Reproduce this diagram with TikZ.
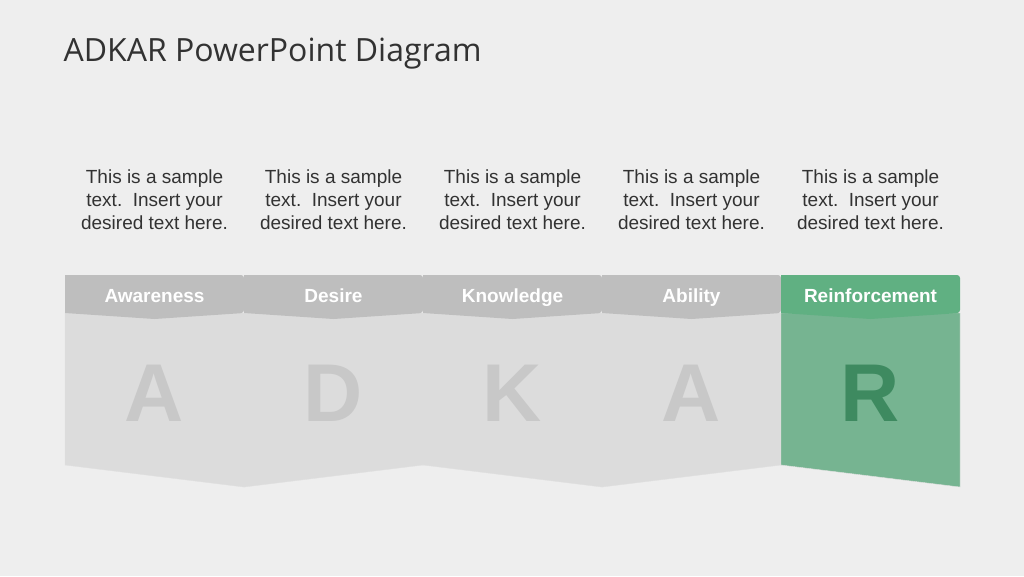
\documentclass[tikz,border=0pt]{standalone}
\usepackage{fontspec}
\setmainfont{Liberation Sans}
\newfontfamily\titlefont{Open Sans}
\usetikzlibrary{positioning,calc}
\definecolor{bgColor}{RGB}{238,238,238}
\definecolor{tabColor}{RGB}{190,190,190}
\definecolor{panelColor}{RGB}{220,220,220}
\definecolor{letterColor}{RGB}{200,200,200}
\definecolor{greenTab}{RGB}{96,176,130}
\definecolor{greenPanel}{RGB}{118,180,145}
\definecolor{greenLetter}{RGB}{62,138,96}
\definecolor{textColor}{RGB}{50,50,50}

\begin{document}
\begin{tikzpicture}[x=1pt,y=-1pt,
sampletext/.style={
    align=center, text=textColor, font=\fontsize{19}{23}\selectfont},
tablabel/.style={
    text=white, anchor=base, font=\fontsize{19}{20}\selectfont\bfseries},
bigletter/.style={
    anchor=base, font=\fontsize{82}{82}\selectfont\bfseries}
]

\fill[bgColor] (0,0) rectangle (1024,576);
\useasboundingbox (0,0) rectangle (1024,576);

\node[anchor=west, text=textColor, font=\titlefont\fontsize{32}{34}\selectfont]
    (title) at (60,54) {ADKAR PowerPoint Diagram};

\foreach \i/\lbl/\ltr/\yl/\yr in {0/Awareness/A/465/487, 1/Desire/D/487/465,
        2/Knowledge/K/465/487, 3/Ability/A/487/465, 4/Reinforcement/R/465/487}{
    \pgfmathsetmacro{\xl}{65+179*\i}
    \pgfmathsetmacro{\xr}{\xl+179}
    \pgfmathsetmacro{\xm}{\xl+89.5}
    \ifnum\i=4
        \colorlet{tabC}{greenTab}\colorlet{panelC}{greenPanel}\colorlet{letterC}{greenLetter}
    \else
        \colorlet{tabC}{tabColor}\colorlet{panelC}{panelColor}\colorlet{letterC}{letterColor}
    \fi
    % panel body
    \fill[panelC, draw=black!12] (\xl,313) -- (\xr,313) -- (\xr,\yr) -- (\xl,\yl) -- cycle;
    % header tab
    \fill[tabC, rounded corners=3pt] (\xl,275) -- (\xr,275) -- (\xr,313)
        [sharp corners] -- (\xm,319) -- (\xl,313) -- cycle;
    \node[tablabel] (tab\i) at (\xm,302) {\lbl};
    \node[bigletter, text=letterC] (letter\i) at (\xm,421) {\ltr};
    \node[sampletext] (text\i) at (\xm,200)
        {This is a sample\\text.\ \ Insert your\\desired text here.};
}

\end{tikzpicture}
\end{document}
